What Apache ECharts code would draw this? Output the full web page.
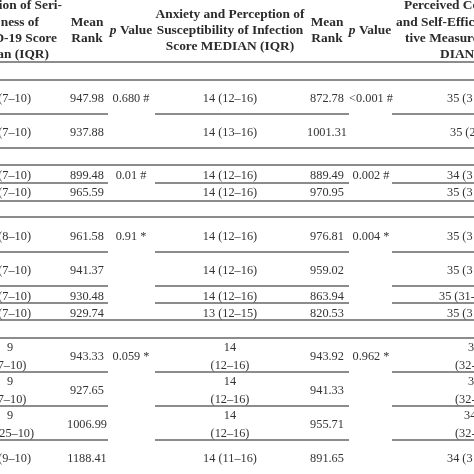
<!DOCTYPE html>
<html>
<head>
<meta charset="utf-8">
<style>
  html, body { margin: 0; padding: 0; background: #fff; }
  #main { width: 474px; height: 474px; filter: blur(0.35px); }
</style>
<script src="https://cdn.jsdelivr.net/npm/echarts@6/dist/echarts.min.js"></script>
</head>
<body>
<div id="main"></div>
<script>
// table cells, as far as they can be read in the cropped picture
var severityHeader = ['ion of Seri-', 'ness of', 'D-19 Score', 'an (IQR)']
var anxietyHeader = ['Anxiety and Perception of', 'Susceptibility of Infection', 'Score MEDIAN (IQR)']
var efficacyHeader = ['Perceived Co', 'and Self-Effic', 'tive Measure', 'DIAN']
var rankHeader = ['Mean', 'Rank']

var severityScore = ['(7–10)', '(7–10)', '(7–10)', '(7–10)', '(8–10)', '(7–10)', '(7–10)', '(7–10)', '9\n(7–10)', '9\n(7–10)', '9\n(7.25–10)', '(9–10)']
var severityRank = ['947.98', '937.88', '899.48', '965.59', '961.58', '941.37', '930.48', '929.74', '943.33', '927.65', '1006.99', '1188.41']
var severityP = ['0.680 #', '', '0.01 #', '', '0.91 *', '', '', '', '0.059 *', '', '', '']
var anxietyScore = ['14 (12–16)', '14 (13–16)', '14 (12–16)', '14 (12–16)', '14 (12–16)', '14 (12–16)', '14 (12–16)', '13 (12–15)', '14\n(12–16)', '14\n(12–16)', '14\n(12–16)', '14 (11–16)']
var anxietyRank = ['872.78', '1001.31', '889.49', '970.95', '976.81', '959.02', '863.94', '820.53', '943.92', '941.33', '955.71', '891.65']
var anxietyP = ['<0.001 #', '', '0.002 #', '', '0.004 *', '', '', '', '0.962 *', '', '', '']
var efficacyScore = ['35 (3', '35 (2', '34 (3', '35 (3', '35 (3', '35 (3', '35 (31-', '35 (3', '3\n(32-', '3\n(32-', '34\n(32-', '34 (3']

// layout of the table in picture pixels
var rowY = [99, 133, 176, 193, 237, 271, 297, 314, 357, 391, 425, 459]
var fullRuleY = [62, 80, 148, 165, 201, 217, 320, 338]
var partRuleY = [114, 183, 252, 286, 303, 372, 406, 440]
var partSpans = [[0, 108], [155, 349], [392, 474]]
var efficacyLeft = [447, 450, 447, 447, 447, 447, 439, 447, 468, 468, 464, 447]
var lineGap = 17.5

var FAMILY = '"Liberation Serif", serif'
var BODY = '12.3px ' + FAMILY
var HEAD = 'bold 13.4px ' + FAMILY

var cells = []
var rules = []

function addCell (x, y, text, font, align) {
  if (text) cells.push([x, y, text, font, align])
}

// header
severityHeader.forEach(function (t, i) {
  addCell([62, 39, 57, 49][i], [6, 23, 39, 55][i], t, HEAD, 'right')
})
anxietyHeader.forEach(function (t, i) {
  addCell(230, [15, 31, 47][i], t, HEAD, 'center')
})
efficacyHeader.forEach(function (t, i) {
  addCell([404, 396, 405, 440][i], [6, 23, 39, 55][i], t, HEAD, 'left')
})
;[87, 327].forEach(function (x) {
  addCell(x, 23, rankHeader[0], HEAD, 'center')
  addCell(x, 39, rankHeader[1], HEAD, 'center')
})
;[131, 370].forEach(function (x) {
  addCell(x, 31, '{i|p} {b|Value}', HEAD, 'center')
})

// body
rowY.forEach(function (y, r) {
  var first = severityScore[r]
  if (first.indexOf('\n') > -1) addCell(10, y, first, BODY, 'center')
  else addCell(31, y, first, BODY, 'right')
  addCell(87, y, severityRank[r], BODY, 'center')
  addCell(131, y, severityP[r], BODY, 'center')
  addCell(230, y, anxietyScore[r], BODY, 'center')
  addCell(327, y, anxietyRank[r], BODY, 'center')
  addCell(371, y, anxietyP[r], BODY, 'center')
  var lines = efficacyScore[r].split('\n')
  if (lines.length > 1) {
    addCell(efficacyLeft[r], y - lineGap / 2, lines[0], BODY, 'left')
    addCell(455, y + lineGap / 2, lines[1], BODY, 'left')
  } else {
    addCell(efficacyLeft[r], y, lines[0], BODY, 'left')
  }
})

fullRuleY.forEach(function (y) { rules.push([0, 474, y]) })
partRuleY.forEach(function (y) {
  partSpans.forEach(function (s) { rules.push([s[0], s[1], y]) })
})

var myChart = echarts.init(document.getElementById('main'), null, { renderer: 'canvas' })
myChart.setOption({
  animation: false,
  backgroundColor: '#fff',
  grid: { left: 0, right: 0, top: 0, bottom: 0 },
  xAxis: { type: 'value', min: 0, max: 474, show: false },
  yAxis: { type: 'value', min: 0, max: 474, inverse: true, show: false },
  series: [
    {
      type: 'custom',
      coordinateSystem: 'cartesian2d',
      clip: true,
      data: rules,
      renderItem: function (params, api) {
        var a = api.coord([api.value(0), api.value(2)])
        var b = api.coord([api.value(1), api.value(2)])
        return {
          type: 'line',
          shape: { x1: a[0], y1: a[1], x2: b[0], y2: b[1] },
          style: { stroke: '#666', lineWidth: 1.4 }
        }
      }
    },
    {
      type: 'custom',
      coordinateSystem: 'cartesian2d',
      clip: true,
      data: cells.map(function (c) { return [c[0], c[1]] }),
      renderItem: function (params, api) {
        var c = cells[params.dataIndex]
        var p = api.coord([api.value(0), api.value(1)])
        return {
          type: 'text',
          style: {
            x: p[0],
            y: p[1],
            text: c[2],
            font: c[3],
            fill: c[3] === HEAD ? '#2b2b2b' : '#333',
            align: c[4],
            verticalAlign: 'middle',
            lineHeight: lineGap,
            rich: {
              i: { font: 'italic bold 13.4px ' + FAMILY, fill: '#2b2b2b' },
              b: { font: HEAD, fill: '#2b2b2b' }
            }
          }
        }
      }
    }
  ]
})
</script>
</body>
</html>
